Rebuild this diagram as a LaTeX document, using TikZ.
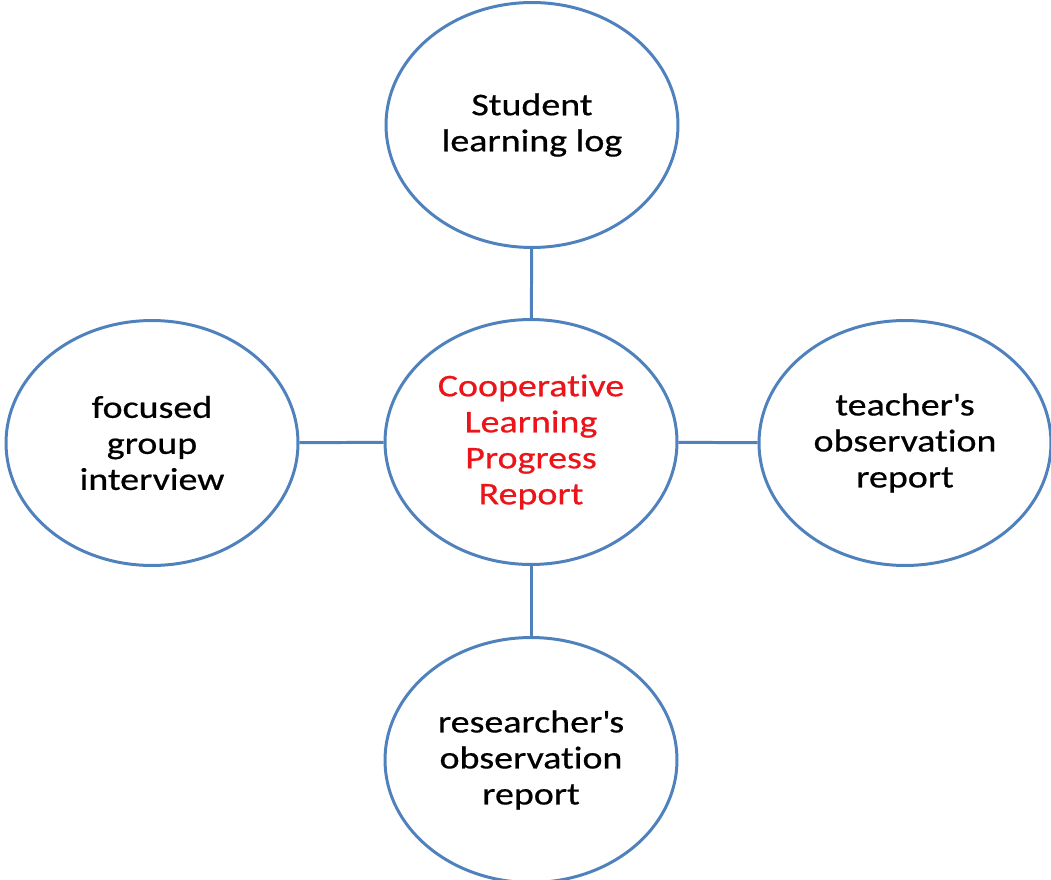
\documentclass[tikz,border=0pt]{standalone}
\usepackage{fontspec}
\setmainfont{Carlito}[FakeStretch=1.2, FakeBold=0.6, Ligatures={NoCommon}]
\usepackage{tikz}
\usetikzlibrary{shapes.geometric,positioning}
\definecolor{ringblue}{RGB}{79,129,189}
\definecolor{titlered}{RGB}{235,20,24}

\begin{document}
\begin{tikzpicture}[
 x=0.02cm, y=-0.02cm,
 every node/.style={font=\fontsize{18}{20.5}\selectfont, align=center},
 source/.style={ellipse, draw=ringblue, line width=1.7pt, minimum width=5.84cm, minimum height=4.9cm, inner sep=0pt},
 link/.style={draw=ringblue, line width=1.7pt}
]
 \useasboundingbox (0,0) rectangle (1051,879);

 % Centre report with its four sources around it
 \node[source, text=titlered] (report) at (531,442) {Cooperative\\Learning\\Progress\\Report};
 \node[source] (log) at (532,125) {Student\\learning log};
 \node[source] (interview) at (152,443) {focused\\group\\interview};
 \node[source] (teacher) at (905,443) {teacher\textquotesingle s\\observation\\report};
 \node[source] (researcher) at (531,760) {researcher\textquotesingle s\\observation\\report};

 % Links to the centre
 \path[link] (log) -- (report);
 \path[link] (interview) -- (report);
 \path[link] (report) -- (teacher);
 \path[link] (report) -- (researcher);
\end{tikzpicture}
\end{document}
